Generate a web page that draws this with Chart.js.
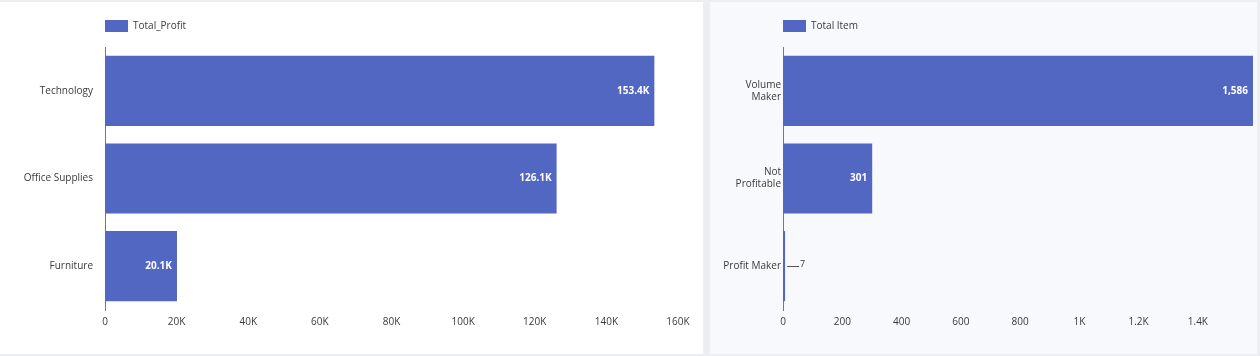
<!DOCTYPE html>
<html>
<head>
<meta charset="utf-8">
<script src="https://cdn.jsdelivr.net/npm/chart.js@4.4.1/dist/chart.umd.min.js"></script>
<style>
  html, body { margin: 0; padding: 0; }
  body { width: 1260px; height: 356px; background: #eceef3; position: relative; overflow: hidden; }
  #leftPanel { position: absolute; left: 0; top: 2px; width: 703px; height: 352px; background: #ffffff; }
  #rightPanel { position: absolute; left: 710px; top: 2px; width: 547px; height: 352px; background: #f8f9fc; }
  canvas { position: absolute; left: 0; top: -2px; }
</style>
</head>
<body>
<div id="leftPanel"><canvas id="c1" width="703" height="356"></canvas></div>
<div id="rightPanel"><canvas id="c2" width="550" height="356"></canvas></div>
<script>
// ---- data ----
const profitCategories = ['Technology', 'Office Supplies', 'Furniture'];
const profitValues = [153400, 126100, 20100];
const profitLabel = 'Total_Profit';
const profitTicks = [0, 20000, 40000, 60000, 80000, 100000, 120000, 140000, 160000];

const itemCategories = [['Volume', 'Maker'], ['Not', 'Profitable'], 'Profit Maker'];
const itemValues = [1586, 301, 7];
const itemLabel = 'Total Item';
const itemTicks = [0, 200, 400, 600, 800, 1000, 1200, 1400];

// ---- styling ----
const BAR = '#5267c1';
const FONT = "'Open Sans', 'DejaVu Sans', sans-serif";
const TXT = '#3a3a3a';

function kFormat(v) {
  if (v === 0) return '0';
  if (Math.abs(v) >= 1000) return (+(v / 1000).toFixed(1)) + 'K';
  return String(v);
}

// moves legend so its box lines up with the plot's left edge, and adds space below it
const legendAlign = {
  id: 'legendAlign',
  beforeInit(chart) {
    const lg = chart.legend;
    if (!lg || lg._patched) return;
    const origFit = lg.fit;
    lg.fit = function () { origFit.call(this); this.height += 5; };
    lg._patched = true;
  },
  afterLayout(chart) {
    const lg = chart.legend;
    if (!lg) return;
    const pad = lg.options.labels.padding;
    const w = lg.right - lg.left;
    lg.left = chart.chartArea.left - pad;
    lg.right = lg.left + w;
  }
};

// value labels at bar ends
const valueLabels = {
  id: 'valueLabels',
  afterDatasetsDraw(chart, args, opts) {
    const ctx = chart.ctx;
    const meta = chart.getDatasetMeta(0);
    const data = chart.data.datasets[0].data;
    ctx.save();
    ctx.font = "bold 10px " + FONT;
    ctx.textBaseline = 'middle';
    meta.data.forEach((bar, i) => {
      const txt = opts.format(data[i]);
      const tw = ctx.measureText(txt).width;
      const barW = bar.x - bar.base;
      if (barW > tw + 12) {
        ctx.fillStyle = '#ffffff';
        ctx.textAlign = 'right';
        ctx.fillText(txt, bar.x - 5, bar.y);
      } else {
        ctx.strokeStyle = '#555';
        ctx.lineWidth = 1;
        ctx.beginPath();
        ctx.moveTo(bar.x + 2, Math.round(bar.y) + 0.5);
        ctx.lineTo(bar.x + 14, Math.round(bar.y) + 0.5);
        ctx.stroke();
        ctx.fillStyle = TXT;
        ctx.font = "9px " + FONT;
        ctx.textAlign = 'left';
        ctx.fillText(txt, bar.x + 15, bar.y - 2);
      }
    });
    ctx.restore();
  }
};

function makeChart(canvasId, labels, values, label, tickList, axisWidth, tickPad, maxVal, fmt, padRight) {
  const step = tickList[1] - tickList[0];
  return new Chart(document.getElementById(canvasId), {
    type: 'bar',
    data: {
      labels: labels,
      datasets: [{
        label: label,
        data: values,
        backgroundColor: BAR,
        borderWidth: 0,
        barPercentage: 0.8,
        categoryPercentage: 1.0
      }]
    },
    options: {
      indexAxis: 'y',
      responsive: false,
      animation: false,
      devicePixelRatio: 1,
      layout: { padding: { left: 0, right: padRight, top: 5, bottom: 22 } },
      plugins: {
        legend: {
          display: true,
          position: 'top',
          align: 'start',
          labels: {
            boxWidth: 23,
            boxHeight: 12,
            padding: 15,
            color: TXT,
            font: { family: FONT, size: 10 }
          }
        },
        tooltip: { enabled: false },
        valueLabels: { format: fmt }
      },
      scales: {
        x: {
          type: 'linear',
          min: 0,
          max: maxVal,
          grid: { display: false, drawTicks: false },
          border: { display: false },
          afterBuildTicks(scale) {
            scale.ticks = tickList.filter(v => v <= scale.max).map(v => ({ value: v }));
          },
          ticks: {
            stepSize: step,
            includeBounds: false,
            padding: 6,
            maxRotation: 0,
            autoSkip: false,
            color: TXT,
            font: { family: FONT, size: 10 },
            callback: (v) => kFormat(v)
          }
        },
        y: {
          grid: { display: false, drawTicks: false },
          border: { display: true, color: '#777', width: 1 },
          afterFit(scale) { scale.width = axisWidth; },
          ticks: {
            padding: tickPad,
            color: TXT,
            font: { family: FONT, size: 10 }
          }
        }
      }
    },
    plugins: [legendAlign, valueLabels]
  });
}

// left chart: plot from x=105 to x=678
makeChart('c1', profitCategories, profitValues, profitLabel, profitTicks, 105, 12,
  profitTicks[profitTicks.length - 1], (v) => (v / 1000).toFixed(1) + 'K', 25);

// right chart: plot from canvas x=73 to x=543
makeChart('c2', itemCategories, itemValues, itemLabel, itemTicks, 73, 2,
  Math.max.apply(null, itemValues), (v) => v.toLocaleString('en-US'), 7);
</script>
</body>
</html>
